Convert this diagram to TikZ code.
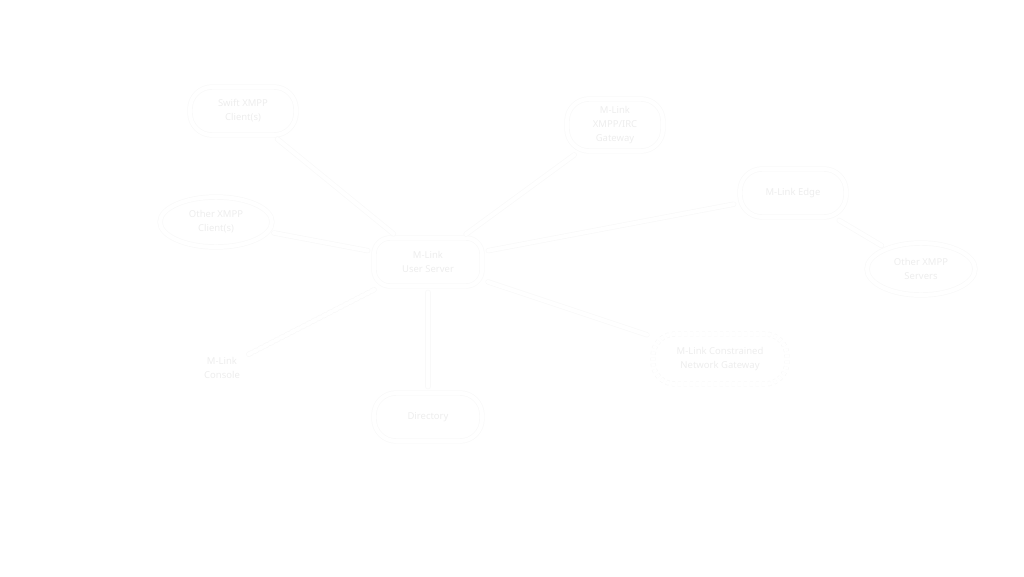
\documentclass[tikz,border=0pt]{standalone}
\usepackage{fontspec}
\setmainfont{Noto Sans}
\usetikzlibrary{shapes.geometric}

\definecolor{faintline}{gray}{0.978}
\definecolor{fainttext}{gray}{0.93}

\begin{document}
\begin{tikzpicture}[
    x=1pt, y=-1pt,
    font=\fontsize{9.5}{14}\selectfont\bfseries,
    every node/.style={text=fainttext, align=center},
    ring/.style={
        draw=faintline,
        double=white,
        double distance=4pt,
        line width=0.7pt
    },
    pill/.style={ring, rectangle, rounded corners=22pt, minimum height=1.6cm},
    oval/.style={ring, ellipse, inner sep=0pt},
    link/.style={
        draw=faintline,
        double=white,
        double distance=4pt,
        line width=0.7pt,
        line cap=round,
        shorten >=6pt,
        shorten <=6pt
    }
]
\useasboundingbox (0,0) rectangle (1024,576);

% centre
\node[ring, rectangle, rounded corners=16pt, minimum width=108pt, minimum height=48pt, font=\fontsize{9.5}{14}\selectfont] (userserver) at (428,262) {M-Link\\User Server};

% clients
\node[pill, minimum width=106pt, minimum height=48pt] (swift) at (243,111) {Swift XMPP\\Client(s)};
\node[oval, minimum width=112pt, minimum height=50pt] (otherclients) at (216,222) {Other XMPP\\Client(s)};
\node (console) at (222,368) {M-Link\\Console};

% servers and gateways
\node[pill, minimum width=96pt, minimum height=52pt] (gateway) at (615,125) {M-Link\\XMPP/IRC\\Gateway};
\node[pill, minimum width=106pt, minimum height=48pt, font=\fontsize{9.5}{14}\selectfont] (edge) at (793,193) {M-Link Edge};
\node[oval, minimum width=108pt, minimum height=52pt] (otherservers) at (921,269) {Other XMPP\\Servers};
\node[pill, dashed, minimum width=134pt, minimum height=50pt] (constrained) at (720,359) {M-Link Constrained\\Network Gateway};
\node[pill, minimum width=108pt, minimum height=48pt] (directory) at (428,417) {Directory};

\draw[link] (swift) -- (userserver);
\draw[link] (otherclients) -- (userserver);
\draw[link, dashed] (console) -- (userserver);
\draw[link] (gateway) -- (userserver);
\draw[link] (edge) -- (userserver);
\draw[link] (otherservers) -- (edge);
\draw[link] (constrained) -- (userserver);
\draw[link] (userserver) -- (directory);

\end{tikzpicture}
\end{document}
